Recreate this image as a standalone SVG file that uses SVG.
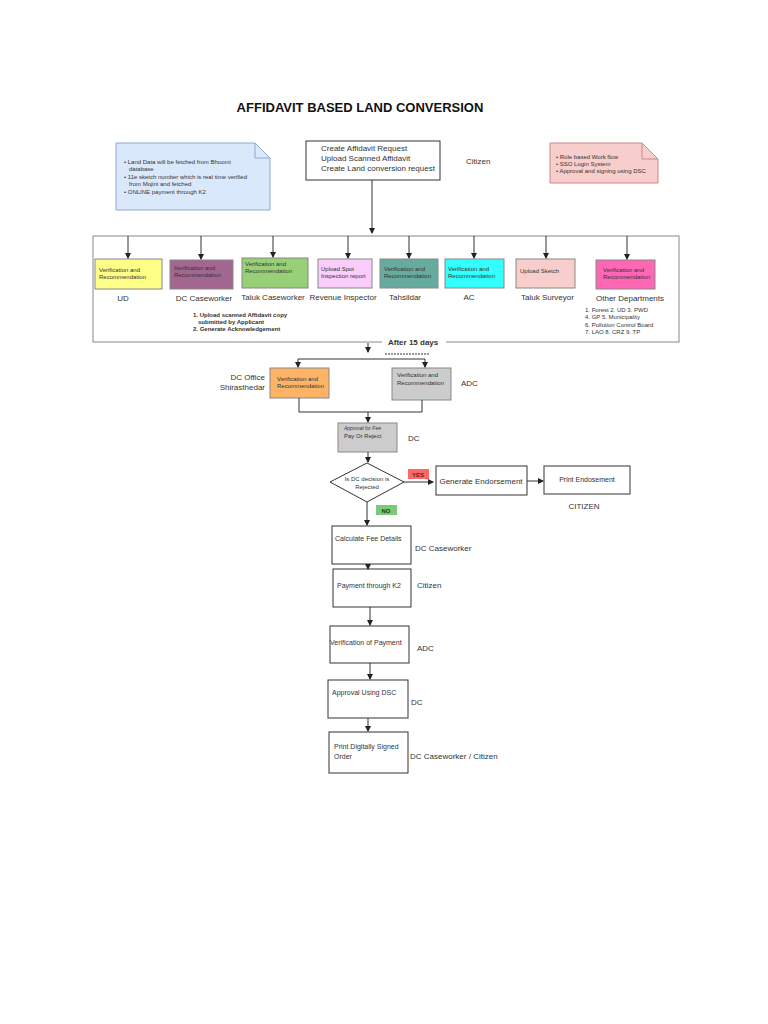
<svg xmlns="http://www.w3.org/2000/svg" width="768" height="1024" viewBox="0 0 768 1024">
<style>
text{font-family:"Liberation Sans",Arial,sans-serif;fill:#333}
.s{font-size:6px}
.m{font-size:8px}
.l{font-size:9px}
.b{stroke:#333;stroke-width:1}
.ln{fill:none;stroke:#333;stroke-width:1}
</style>
<defs><marker id="a" markerWidth="6" markerHeight="6" refX="5" refY="3" orient="auto"><path d="M0,0 L6,3 L0,6z" fill="#222"/></marker></defs>
<rect width="768" height="1024" fill="#fff"/>
<text x="360" y="112" text-anchor="middle" style="font-size:13px;font-weight:bold;fill:#111">AFFIDAVIT BASED LAND CONVERSION</text>

<g id="note1"><path d="M116,143 H255 L270,158 V210 H116Z" fill="#dae8fc" stroke="#8fa8cf"/><path d="M255,143 V158 H270" fill="none" stroke="#8fa8cf"/>
<text class="s" x="124" y="164">•  Land Data will be fetched from Bhoomi</text><text class="s" x="129" y="171">database</text>
<text class="s" x="124" y="179">•  11e sketch number which is real time verified</text><text class="s" x="129" y="186">from Mojini and fetched</text>
<text class="s" x="124" y="194">•   ONLINE payment through K2</text></g>

<g id="start"><rect x="306" y="141" width="134" height="39" fill="#fff" class="b"/>
<text class="m" x="321" y="151">Create Affidavit Request</text><text class="m" x="321" y="161">Upload Scanned Affidavit</text><text class="m" x="321" y="171">Create Land conversion request</text>
<text class="m" x="466" y="164">Citizen</text></g>

<g id="note2"><path d="M550,143 H642 L658,159 V183 H550Z" fill="#f8cecc" stroke="#c88"/><path d="M642,143 V159 H658" fill="none" stroke="#c88"/>
<text class="s" x="556" y="159">•  Role based Work flow</text><text class="s" x="556" y="166">•  SSO Login System</text><text class="s" x="556" y="173">•  Approval and signing using DSC</text></g>

<g id="container"><rect x="93" y="236" width="586" height="106" fill="#fff" stroke="#888"/></g>

<g id="n1"><rect x="95" y="259" width="67" height="30" fill="#ffff88" stroke="#888"/><text class="s" x="99" y="272">Verification and</text><text class="s" x="99" y="279">Recommendation</text><text class="m" x="123" y="301" text-anchor="middle">UD</text></g>
<g id="n2"><rect x="170" y="260" width="63" height="29" fill="#a36690" stroke="#888"/><text class="s" x="174" y="270">Verification and</text><text class="s" x="174" y="277">Recommendation</text><text class="m" x="204" y="301" text-anchor="middle">DC Caseworker</text></g>
<g id="n3"><rect x="242" y="258" width="66" height="30" fill="#97d077" stroke="#888"/><text class="s" x="245" y="266">Verification and</text><text class="s" x="245" y="273">Recommendation</text><text class="m" x="273" y="300" text-anchor="middle">Taluk Caseworker</text></g>
<g id="n4"><rect x="318" y="259" width="54" height="29" fill="#fbcdfb" stroke="#888"/><text class="s" x="321" y="271">Upload Spot</text><text class="s" x="321" y="278">Inspection report</text><text class="m" x="343" y="300" text-anchor="middle">Revenue Inspector</text></g>
<g id="n5"><rect x="380" y="259" width="58" height="29" fill="#67ab9f" stroke="#888"/><text class="s" x="384" y="271">Verification and</text><text class="s" x="384" y="278">Recommendation</text><text class="m" x="389" y="300">Tahsildar</text></g>
<g id="n6"><rect x="445" y="259" width="59" height="29" fill="#33ffff" stroke="#888"/><text class="s" x="448" y="271">Verification and</text><text class="s" x="448" y="278">Recommendation</text><text class="m" x="469" y="300" text-anchor="middle">AC</text></g>
<g id="n7"><rect x="516" y="259" width="59" height="29" fill="#f8cecc" stroke="#888"/><text class="s" x="520" y="273">Upload Sketch</text><text class="m" x="521" y="300">Taluk Surveyor</text></g>
<g id="n8"><rect x="596" y="260" width="59" height="29" fill="#ff66b3" stroke="#888"/><text class="s" x="603" y="272">Verification and</text><text class="s" x="603" y="279">Recommendation</text><text class="m" x="596" y="301">Other  Departments</text>
<text class="s" x="585" y="312">1. Forest  2. UD  3. PWD</text><text class="s" x="585" y="319">4. GP   5. Municipality</text><text class="s" x="585" y="327">6. Pollution Control Board</text><text class="s" x="585" y="334">7. LAO  8. CRZ  9. TP</text></g>
<g id="ack"><text class="s" x="193" y="317" style="font-weight:bold">1. Upload scanned Affidavit copy</text><text class="s" x="198" y="324" style="font-weight:bold">submitted by Applicant</text><text class="s" x="193" y="331" style="font-weight:bold">2. Generate Acknowledgement</text></g>

<g id="after"><rect x="382" y="336" width="64" height="13" fill="#fff"/><text class="m" x="388" y="345" style="font-weight:bold">After 15 days</text><line x1="385" y1="354" x2="430" y2="354" stroke="#999" stroke-width="2" stroke-dasharray="2,1"/></g>

<g id="so"><rect x="270" y="368" width="59" height="30" fill="#ffb366" stroke="#888"/><text class="s" x="277" y="381">Verification and</text><text class="s" x="277" y="388">Recommendation</text><text class="m" x="265" y="380" text-anchor="end">DC Office</text><text class="m" x="265" y="390" text-anchor="end">Shirasthedar</text></g>
<g id="adc"><rect x="392" y="368" width="59" height="32" fill="#ccc" stroke="#888"/><text class="s" x="397" y="377">Verification and</text><text class="s" x="397" y="385">Recommendation</text><text class="m" x="461" y="386">ADC</text></g>
<g id="fee"><rect x="338" y="423" width="59" height="29" fill="#ccc" stroke="#888"/><text x="344" y="430" style="font-size:5px;font-style:italic">Approval for Fee</text><text class="s" x="344" y="438">Pay Or Reject</text><text class="m" x="408" y="441">DC</text></g>
<g id="dec"><path d="M367,463 L404,482 L367,502 L330,482Z" fill="#fff" class="b"/><text class="s" x="367" y="481" text-anchor="middle">Is DC decision is</text><text class="s" x="367" y="489" text-anchor="middle">Rejected</text></g>
<g id="yes"><rect x="408" y="469" width="21" height="10" fill="#f66"/><text x="418" y="477" text-anchor="middle" style="font-size:6px;font-weight:bold">YES</text></g>
<g id="no"><rect x="376" y="505" width="21" height="10" fill="#7c7"/><text x="386" y="513" text-anchor="middle" style="font-size:6px;font-weight:bold">NO</text></g>
<g id="gen"><rect x="436" y="466" width="91" height="29" fill="#fff" class="b"/><text class="m" x="481" y="484" text-anchor="middle">Generate Endorsement</text></g>
<g id="pe"><rect x="544" y="466" width="86" height="28" fill="#fff" class="b"/><text class="s" x="587" y="482" text-anchor="middle" style="font-size:7px">Print Endosement</text><text class="m" x="584" y="509" text-anchor="middle">CITIZEN</text></g>
<g id="calc"><rect x="332" y="526" width="79" height="38" fill="#fff" class="b"/><text class="s" x="335" y="541" style="font-size:7px">Calculate Fee Details</text><text class="m" x="415" y="551">DC Caseworker</text></g>
<g id="pay"><rect x="333" y="569" width="78" height="38" fill="#fff" class="b"/><text class="s" x="337" y="588" style="font-size:7px">Payment through K2</text><text class="m" x="417" y="588">Citizen</text></g>
<g id="ver"><rect x="330" y="626" width="79" height="37" fill="#fff" class="b"/><text class="s" x="330" y="645" style="font-size:7px">Verification of Payment</text><text class="m" x="417" y="651">ADC</text></g>
<g id="dsc"><rect x="328" y="680" width="80" height="38" fill="#fff" class="b"/><text class="s" x="332" y="695" style="font-size:7px">Approval Using DSC</text><text class="m" x="411" y="705">DC</text></g>
<g id="pr"><rect x="329" y="732" width="79" height="41" fill="#fff" class="b"/><text class="s" x="334" y="749" style="font-size:7px">Print Digitally Signed</text><text class="s" x="334" y="759" style="font-size:7px">Order</text><text class="m" x="410" y="759">DC Caseworker / Citizen</text></g>

<g id="connectors" class="ln" marker-end="url(#a)">
<path d="M372,180 V233"/>
<path d="M128,236 V258"/><path d="M201,236 V259"/><path d="M273,236 V257"/><path d="M348,236 V258"/><path d="M409,236 V258"/><path d="M474,236 V258"/><path d="M546,236 V258"/><path d="M627,236 V259"/>
<path d="M368,343 V352"/>
<path d="M368,359 H298 V367"/><path d="M368,359 H425 V367"/>
<path d="M299,398 V412 H422 V400" marker-end="none"/><path d="M368,412 V422"/>
<path d="M368,452 V462"/>
<path d="M404,482 H433"/><path d="M527,481 H543"/>
<path d="M367,502 V525"/>
<path d="M368,564 V569"/><path d="M370,607 V625"/><path d="M370,663 V679"/><path d="M368,718 V731"/>
</g>
</svg>
